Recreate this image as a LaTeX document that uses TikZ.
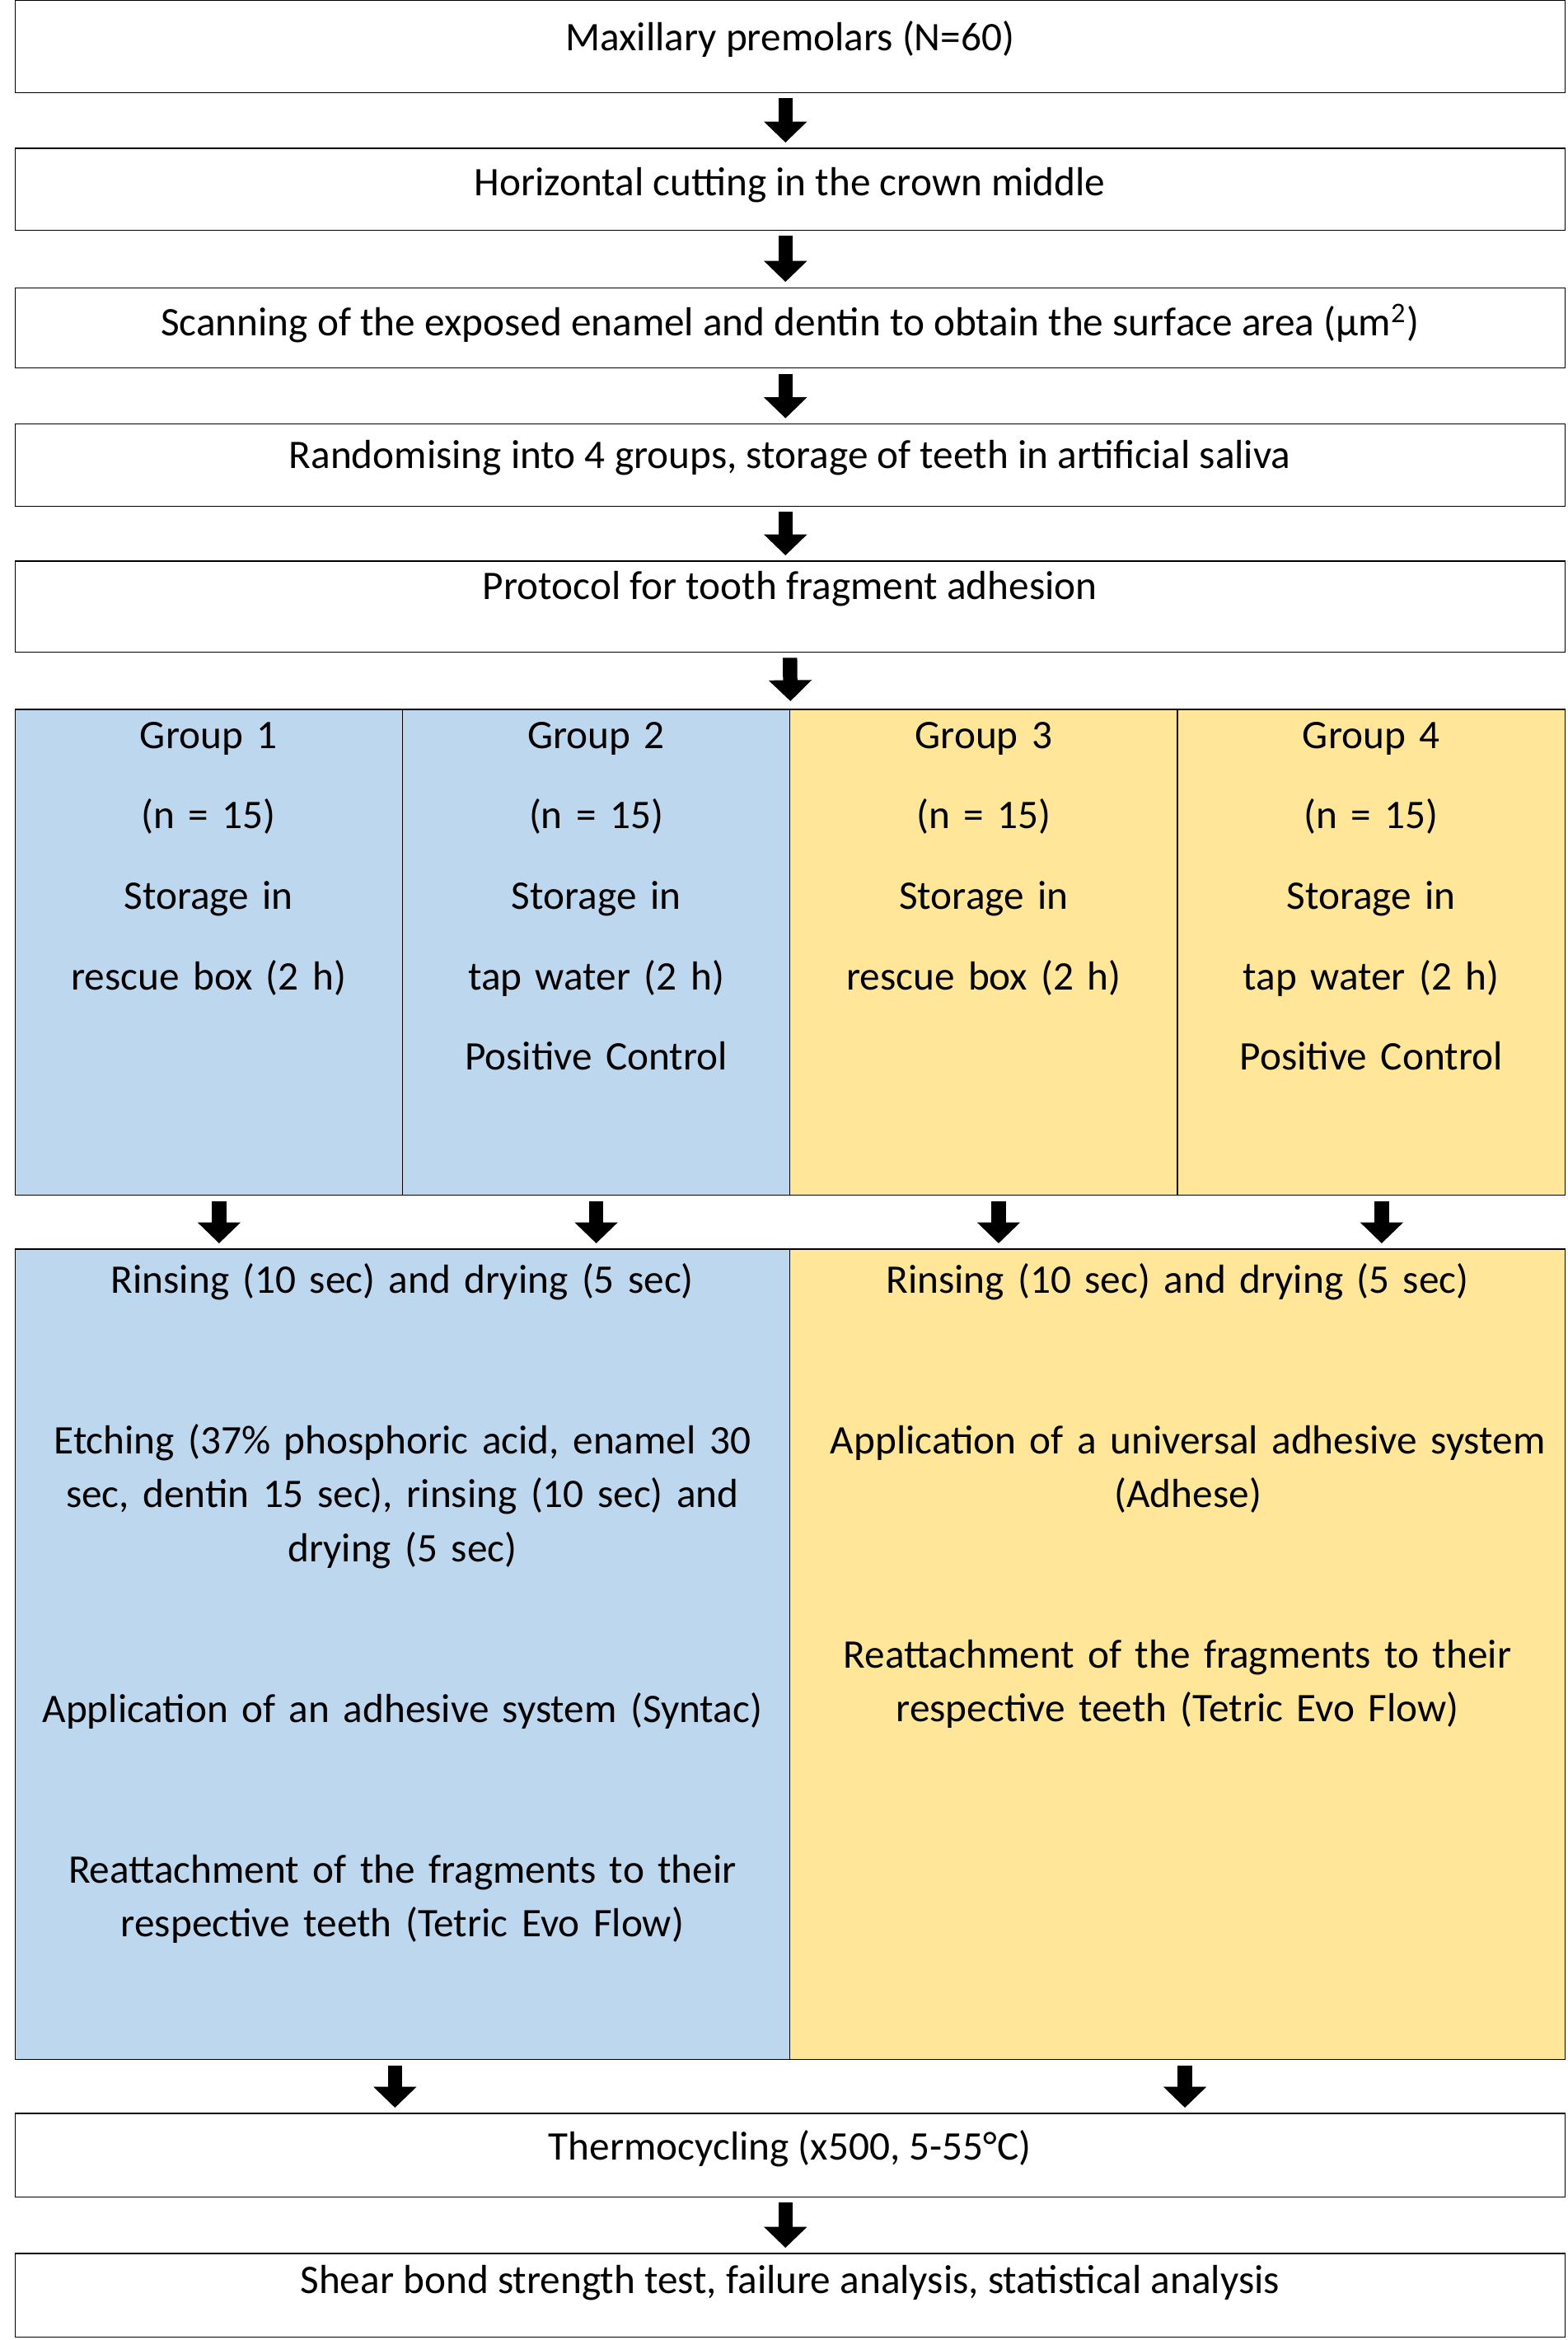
\documentclass[tikz,border=0pt]{standalone}
\usepackage{fontspec}
\setmainfont{Carlito}
\usetikzlibrary{arrows.meta}
\definecolor{grpblue}{HTML}{BDD7EE}
\definecolor{grpyellow}{HTML}{FFE699}
\tikzset{box/.style={draw,thin,minimum width=20.8cm,minimum height=1.16cm,inner sep=0pt},
  blk/.style={line width=5.5pt,-{Triangle[length=8pt,width=16pt]}},
  txt/.style={align=center,inner sep=0pt}}
\begin{document}
\fontsize{15.5}{26}\selectfont
\begin{tikzpicture}[x=0.02cm,y=-0.02cm]
\useasboundingbox (0,0) rectangle (1052,1570);
    %simple steps
    \node[box,minimum height=1.24cm,text depth=8pt] (s1) at (530,31) {Maxillary premolars (N=60)};
    \node[box,minimum height=1.1cm,text depth=6pt] (s2) at (530,127) {Horizontal cutting in the crown middle};
    \node[box,minimum height=1.08cm,text depth=6pt] (s3) at (530,220) {Scanning of the exposed enamel and dentin to obtain the surface area (µm\textsuperscript{2})};
    \node[box,minimum height=1.1cm,text depth=8pt] (s4) at (530,312) {Randomising into 4 groups, storage of teeth in artificial saliva};
    \node[box,minimum height=1.22cm,text depth=16pt] (s5) at (530,407) {Protocol for tooth fragment adhesion};
    %groups
    \node[draw,fill=grpblue,minimum width=5.2cm,minimum height=6.52cm] (g1) at (140,639) {};
    \node[draw,fill=grpblue,minimum width=5.2cm,minimum height=6.52cm] (g2) at (400,639) {};
    \node[draw,fill=grpyellow,minimum width=5.2cm,minimum height=6.52cm] (g3) at (660,639) {};
    \node[draw,fill=grpyellow,minimum width=5.2cm,minimum height=6.52cm] (g4) at (920,639) {};
    \begin{scope}[every node/.style={txt,text width=5cm,font={\fontsize{15.5}{1.08cm}\selectfont}}]
    \node[anchor=north] (t1) at (140,484) {Group 1\\(n = 15)\\Storage in\\rescue box (2 h)};
    \node[anchor=north] (t2) at (400,484) {Group 2\\(n = 15)\\Storage in\\tap water (2 h)\\Positive Control};
    \node[anchor=north] (t3) at (660,484) {Group 3\\(n = 15)\\Storage in\\rescue box (2 h)};
    \node[anchor=north] (t4) at (920,484) {Group 4\\(n = 15)\\Storage in\\tap water (2 h)\\Positive Control};
    \end{scope}
    %protocols
    \node[draw,fill=grpblue,minimum width=10.4cm,minimum height=10.88cm] (pl) at (270,1110) {};
    \node[draw,fill=grpyellow,minimum width=10.4cm,minimum height=10.88cm] (pr) at (790,1110) {};
    \begin{scope}[every node/.style={txt,text width=9.8cm,font={\fontsize{15.5}{0.72cm}\selectfont}}]
    \node (l1) at (270,860) {Rinsing (10 sec) and drying (5 sec)};
    \node (l2) at (270,1004) {Etching (37\% phosphoric acid, enamel 30\\sec, dentin 15 sec), rinsing (10 sec) and\\drying (5 sec)};
    \node (l3) at (270,1148) {Application of an adhesive system (Syntac)};
    \node (l4) at (270,1274) {Reattachment of the fragments to their\\respective teeth (Tetric Evo Flow)};
    \node (r1) at (790,860) {Rinsing (10 sec) and drying (5 sec)};
    \node (r2) at (797,986) {Application of a universal adhesive system\\(Adhese)};
    \node (r3) at (790,1130) {Reattachment of the fragments to their\\respective teeth (Tetric Evo Flow)};
    \end{scope}
    %final steps
    \node[box,minimum height=1.12cm,text depth=8pt] (s6) at (530,1446) {Thermocycling (x500, 5-55°C)};
    \node[box,minimum height=1.12cm,text depth=12pt] (s7) at (530,1540) {Shear bond strength test, failure analysis, statistical analysis};
    %arrows
    \draw[blk] ([xshift=-0.06cm,yshift=-2pt]s1.south) -- ([xshift=-0.06cm,yshift=2pt]s2.north);
    \draw[blk] ([xshift=-0.06cm,yshift=-2pt]s2.south) -- ([xshift=-0.06cm,yshift=2pt]s3.north);
    \draw[blk] ([xshift=-0.06cm,yshift=-2pt]s3.south) -- ([xshift=-0.06cm,yshift=2pt]s4.north);
    \draw[blk] ([xshift=-0.06cm,yshift=-2pt]s4.south) -- ([xshift=-0.06cm,yshift=2pt]s5.north);
    \draw[blk] ([yshift=-2pt]s5.south) -- ([yshift=3pt]g2.north east);
    \draw[blk] ([xshift=0.14cm,yshift=-2pt]g1.south) -- ([xshift=0.14cm,yshift=2pt]g1.south |- pl.north);
    \draw[blk] ([yshift=-2pt]g2.south) -- ([yshift=2pt]g2.south |- pl.north);
    \draw[blk] ([xshift=0.2cm,yshift=-2pt]g3.south) -- ([xshift=0.2cm,yshift=2pt]g3.south |- pr.north);
    \draw[blk] ([xshift=0.14cm,yshift=-2pt]g4.south) -- ([xshift=0.14cm,yshift=2pt]g4.south |- pr.north);
    \draw[blk] ([xshift=-0.1cm,yshift=-2pt]pl.south) -- ([xshift=-0.1cm,yshift=2pt]pl.south |- s6.north);
    \draw[blk] ([xshift=0.1cm,yshift=-2pt]pr.south) -- ([xshift=0.1cm,yshift=2pt]pr.south |- s6.north);
    \draw[blk] ([xshift=-0.06cm,yshift=-2pt]s6.south) -- ([xshift=-0.06cm,yshift=2pt]s7.north);
\end{tikzpicture}
\end{document}
